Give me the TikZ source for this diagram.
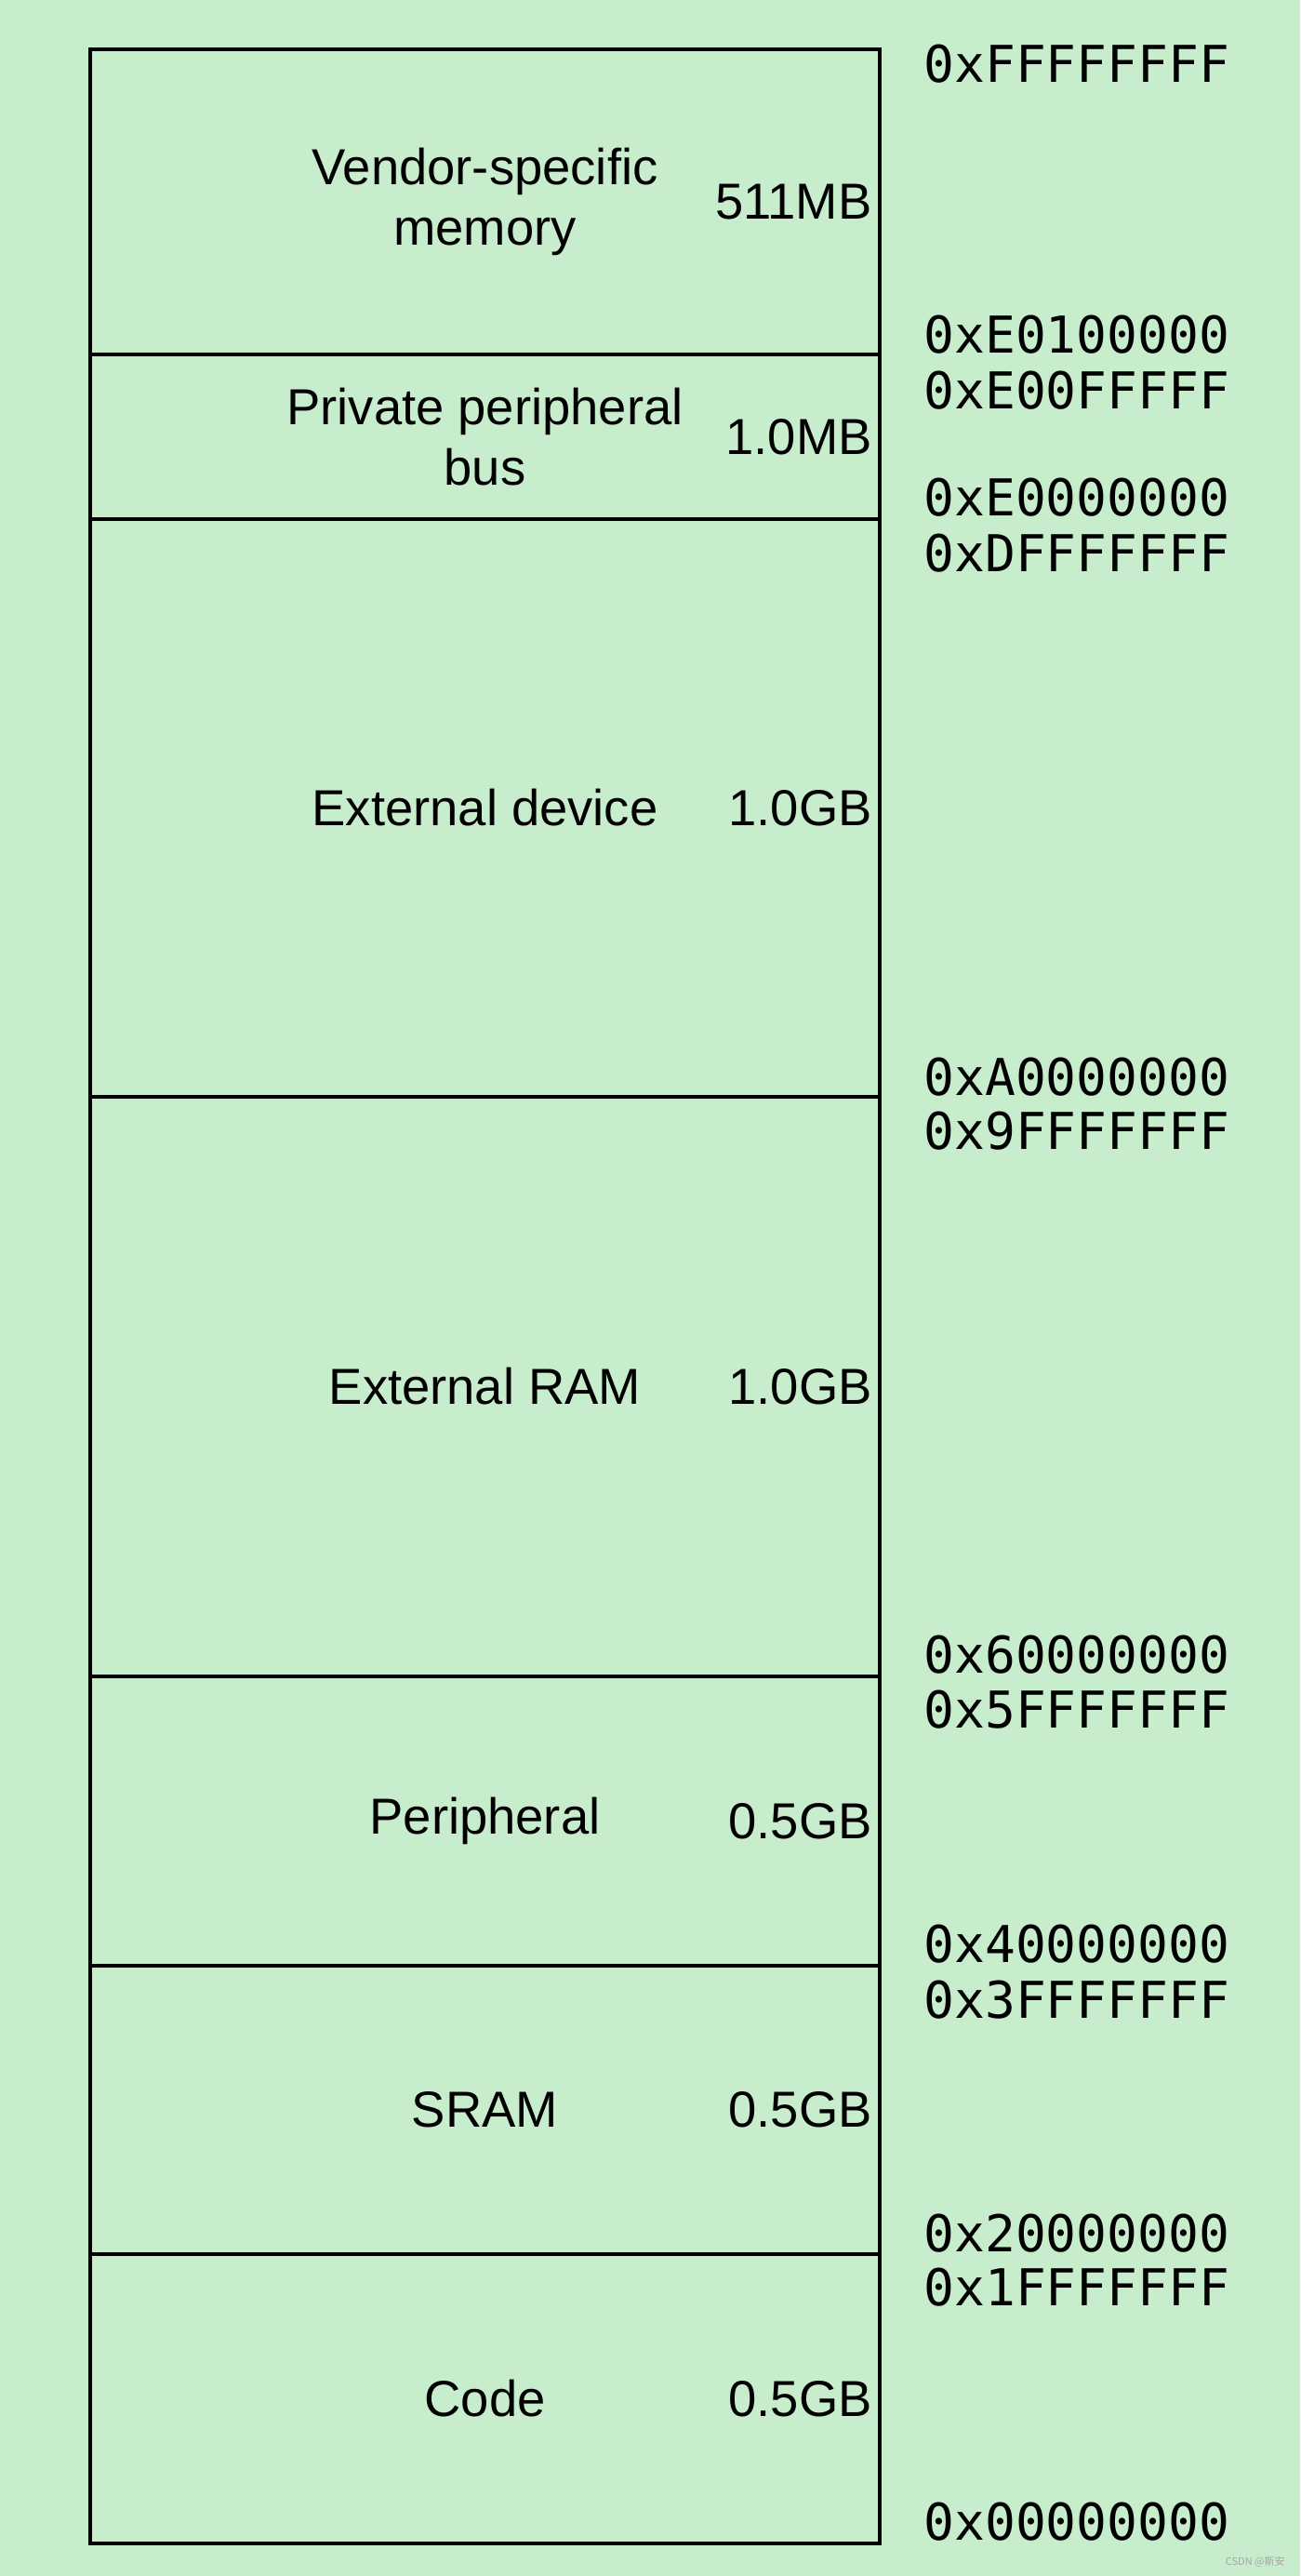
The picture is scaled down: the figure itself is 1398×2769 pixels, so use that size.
\documentclass[tikz,border=0pt]{standalone}
\usepackage{fontspec}
\setmainfont{Liberation Sans}
\newfontfamily\hexfont{DejaVu Sans Mono}
\newfontfamily\cjkfont{Noto Sans CJK SC}
\usetikzlibrary{positioning}
\definecolor{bggreen}{RGB}{200,237,205}

\begin{document}
\begin{tikzpicture}[x=0.5pt,y=-0.5pt,node distance=0pt,
    region/.style={draw,line width=1.75pt,outer sep=0pt,inner sep=0pt,
      minimum width=424.5pt,align=center,font=\fontsize{27.2}{32.5}\selectfont},
    size/.style={anchor=east,inner sep=0pt,font=\fontsize{27.2}{32.5}\selectfont},
    addr/.style={anchor=west,inner sep=0pt,font=\hexfont\fontsize{27.3}{32}\selectfont}]
  \fill[bggreen] (0,0) rectangle (1398,2769);
  \useasboundingbox (0,0) rectangle (1398,2769);

  \node[region,minimum height=164pt,anchor=north west] (vendor) at (97,53) {Vendor-specific\\memory};
  \node[region,minimum height=88.5pt,below=of vendor] (ppb) {Private peripheral\\bus};
  \node[region,minimum height=310.5pt,below=of ppb] (extdev) {External device};
  \node[region,minimum height=311.5pt,below=of extdev] (extram) {External RAM};
  \node[region,minimum height=155.5pt,below=of extram] (periph) {Peripheral};
  \node[region,minimum height=155pt,below=of periph] (sram) {SRAM};
  \node[region,minimum height=155.5pt,below=of sram] (code) {Code};

  \foreach \r/\s in {vendor/511MB, ppb/1.0MB, extdev/1.0GB, extram/1.0GB,
      periph/0.5GB, sram/0.5GB, code/0.5GB}
    \node[size] (\r-size) at ([xshift=-4pt]\r.east) {\s};

  % start and end addresses
  \foreach \y/\a in {69/FFFFFFFF, 360/E0100000, 420/E00FFFFF, 535/E0000000,
      595/DFFFFFFF, 1158/A0000000, 1216/9FFFFFFF, 1779/60000000, 1838/5FFFFFFF,
      2090/40000000, 2150/3FFFFFFF, 2401/20000000, 2459/1FFFFFFF, 2711/00000000}
    \node[addr] (a\a) at (993,\y) {0x\a};

  \node[anchor=east,inner sep=0pt,text=gray!70,font=\cjkfont\fontsize{5.5}{6}\selectfont] (mark) at (1382,2754) {CSDN @斯安};
\end{tikzpicture}
\end{document}
